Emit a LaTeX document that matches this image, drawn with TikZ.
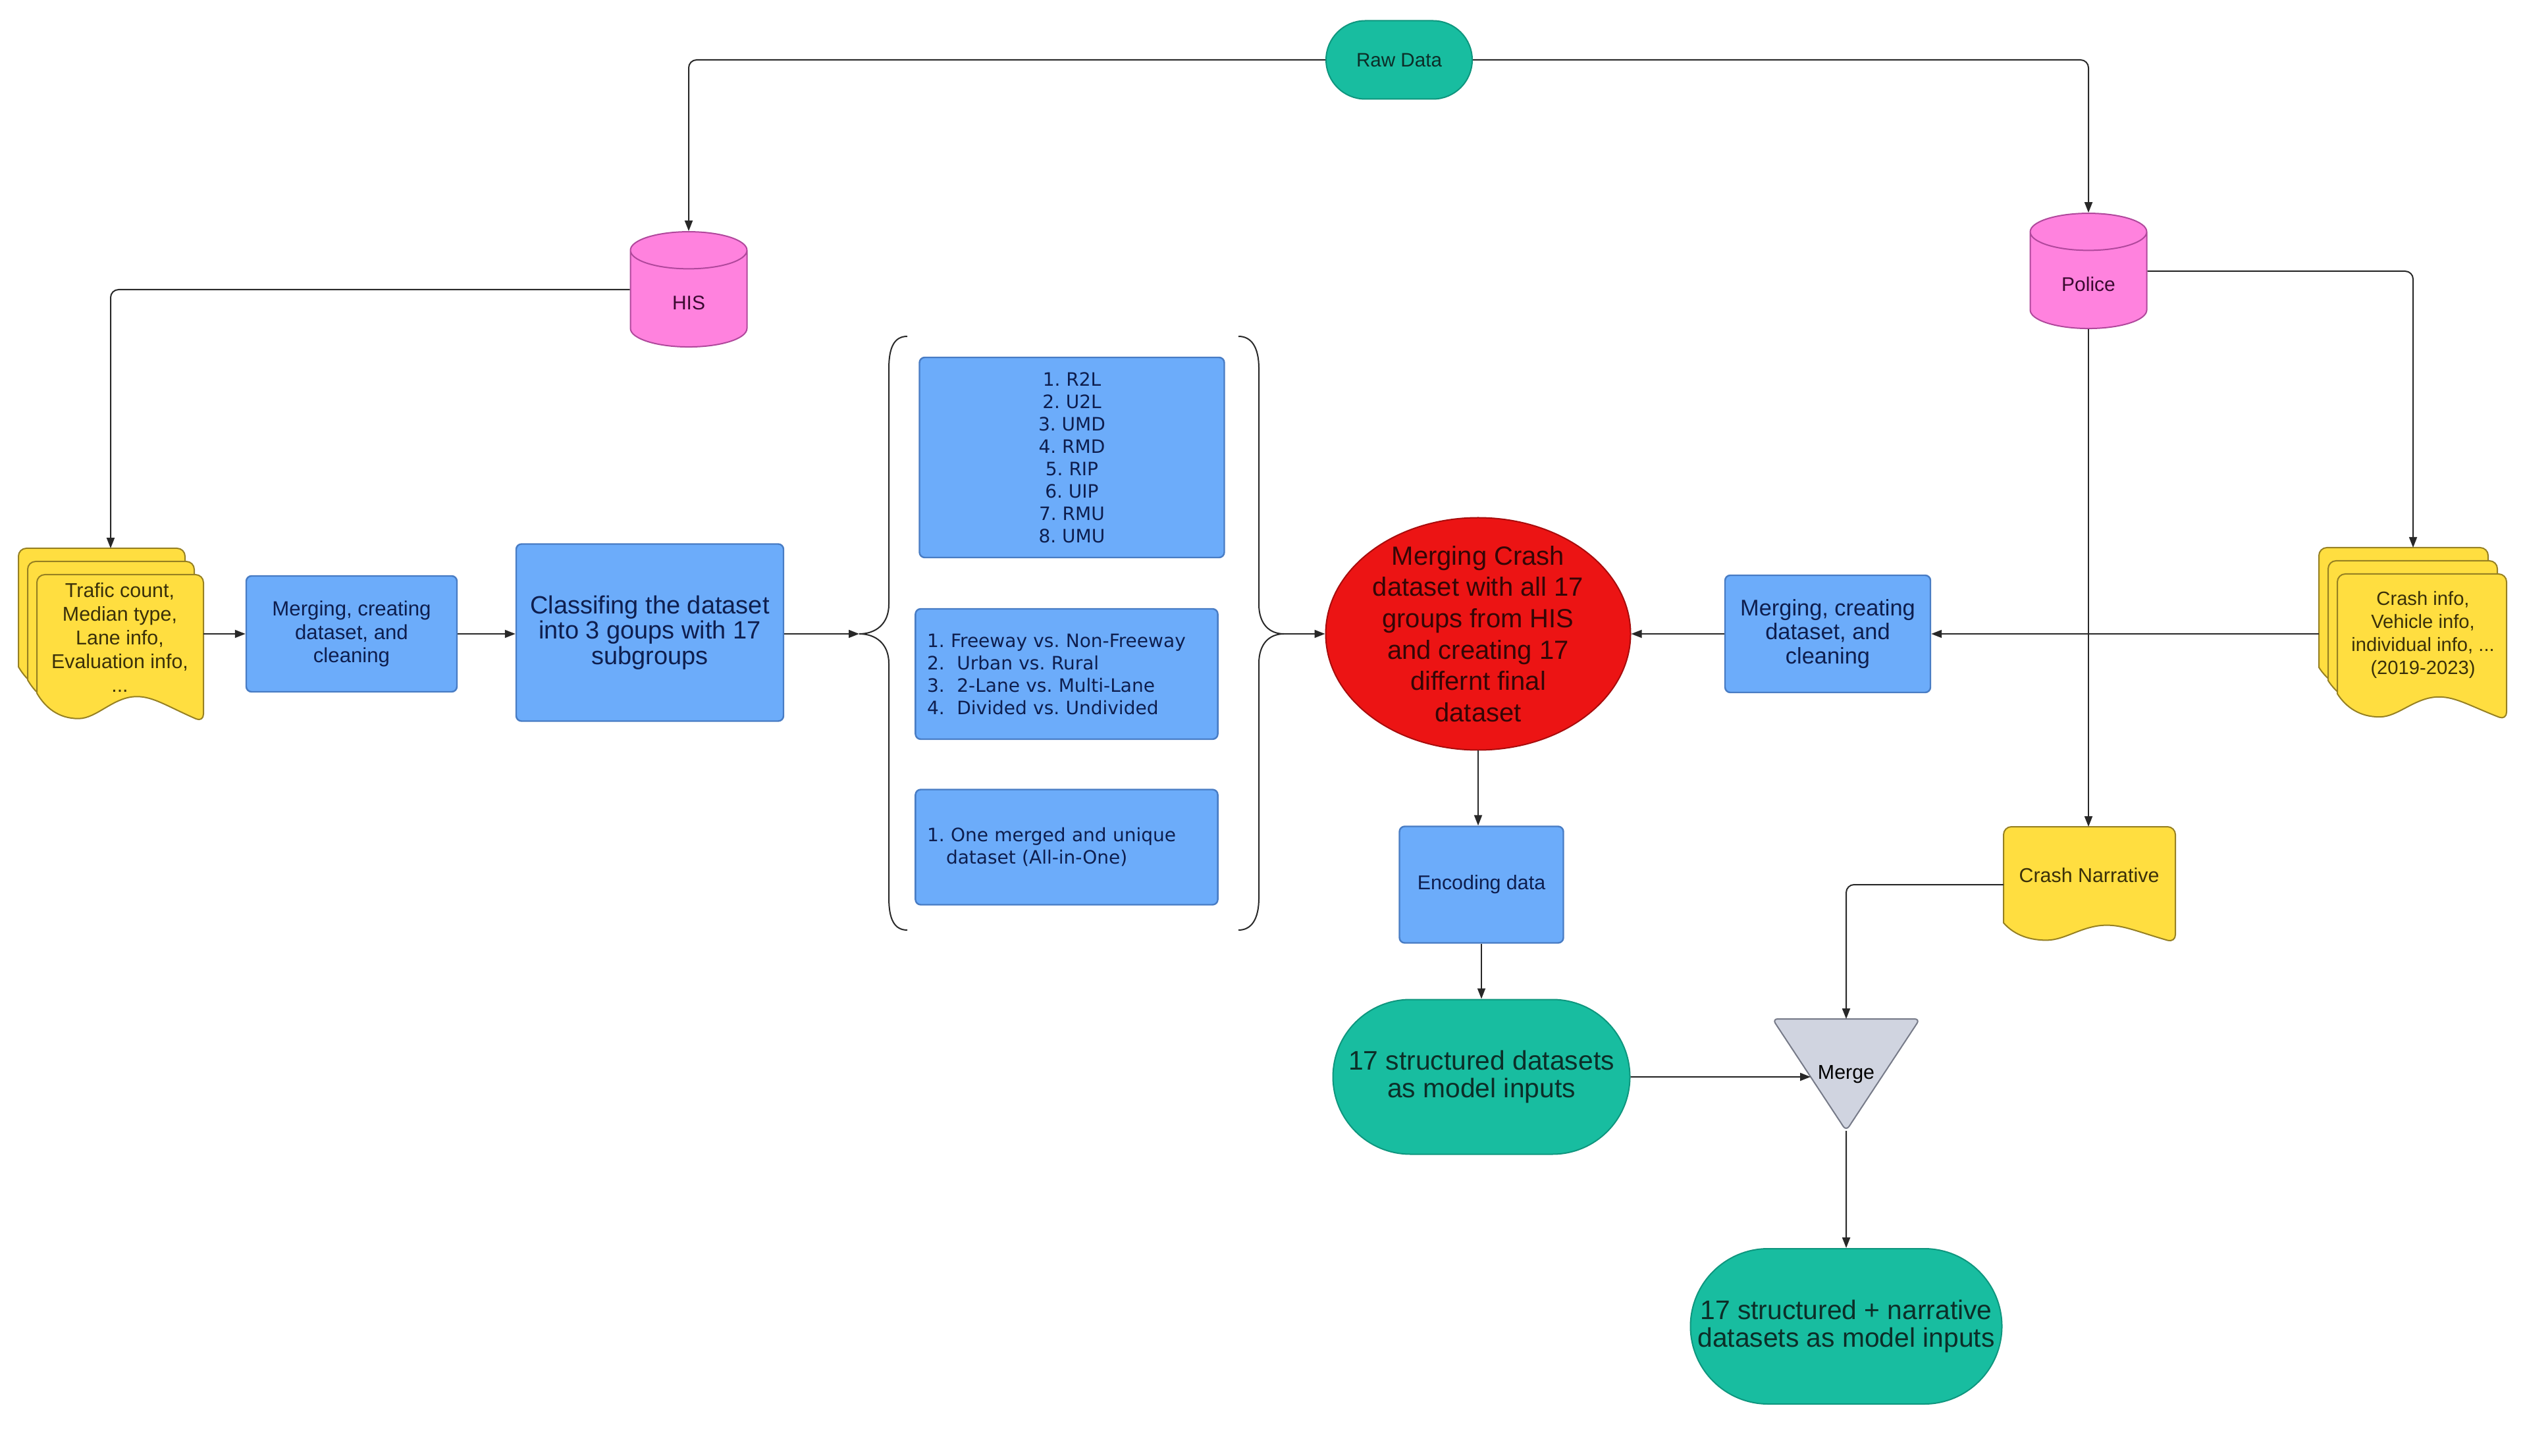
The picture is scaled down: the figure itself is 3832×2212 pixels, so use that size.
\documentclass[tikz,border=0pt]{standalone}
\usepackage{fontspec}
\setmainfont{Liberation Sans}
\newfontfamily\listfont{DejaVu Sans}
\usetikzlibrary{arrows.meta,shapes.geometric,shapes.misc}

\definecolor{tealfill}{RGB}{24,189,160}
\definecolor{tealline}{RGB}{14,150,126}
\definecolor{tealink}{RGB}{12,46,40}
\definecolor{bluefill}{RGB}{108,172,250}
\definecolor{blueline}{RGB}{72,124,196}
\definecolor{blueink}{RGB}{14,30,78}
\definecolor{docfill}{RGB}{255,222,64}
\definecolor{docline}{RGB}{150,128,34}
\definecolor{docink}{RGB}{58,48,10}
\definecolor{pinkfill}{RGB}{255,130,222}
\definecolor{pinkline}{RGB}{176,72,156}
\definecolor{pinkink}{RGB}{58,10,48}
\definecolor{redfill}{RGB}{236,20,20}
\definecolor{redline}{RGB}{168,12,12}
\definecolor{redink}{RGB}{52,6,6}
\definecolor{grayfill}{RGB}{208,212,224}
\definecolor{grayline}{RGB}{118,122,136}
\definecolor{wire}{RGB}{40,40,40}

\tikzset{
  arr/.style={draw=wire, line width=0.5pt, -{Triangle[length=4pt,width=3pt]}},
  wireline/.style={draw=wire, line width=0.5pt},
  terminal/.style={rounded rectangle, fill=tealfill, draw=tealline, line width=0.5pt, text=tealink, align=center, inner sep=1pt},
  store/.style={cylinder, shape border rotate=90, aspect=0.32, fill=pinkfill, draw=pinkline, line width=0.5pt, text width=40pt, align=center, inner sep=2pt, minimum width=44.25pt, minimum height=43.75pt},
  storetext/.style={text=pinkink, inner sep=1pt, font=\fontsize{7.5}{9}\selectfont},
  bluebox/.style={rectangle, rounded corners=2pt, fill=bluefill, draw=blueline, line width=0.6pt, text=blueink, align=center, inner sep=2pt},
  listbox/.style={bluebox, font=\listfont\fontsize{7}{8.5}\selectfont},
  docshape/.style={fill=docfill, draw=docline, line width=0.5pt},
  doctext/.style={text=docink, align=center, inner sep=1pt},
  mergeshape/.style={fill=grayfill, draw=grayline, line width=0.5pt, rounded corners=2pt},
  crashtext/.style={text=redink, align=center, inner sep=0pt, font=\fontsize{10}{11.9}\selectfont}
}

% one page of a document symbol: x, y (top left), width, height, wave depth
\newcommand{\docpage}[5]{%
  \pgfmathsetmacro{\pgxr}{#1+#3}%
  \pgfmathsetmacro{\pgyb}{#2+#4}%
  \draw[docshape] (#1,\pgyb-#5) [rounded corners=3pt] -- (#1,#2) -- (\pgxr,#2) -- (\pgxr,\pgyb) [sharp corners]
    .. controls ({#1+0.78*#3},{\pgyb-0.55*#5}) and ({#1+0.70*#3},{\pgyb-0.88*#5}) .. ({#1+0.60*#3},{\pgyb-0.88*#5})
    .. controls ({#1+0.46*#3},{\pgyb-0.88*#5}) and ({#1+0.36*#3},{\pgyb-0.12*#5}) .. ({#1+0.25*#3},{\pgyb-0.12*#5})
    .. controls ({#1+0.13*#3},{\pgyb-0.12*#5}) and ({#1+0.05*#3},{\pgyb-0.50*#5}) .. (#1,\pgyb-#5) -- cycle;
}

\begin{document}
\frenchspacing
\begin{tikzpicture}[x=0.25pt,y=0.25pt,yscale=-1,xscale=1]
\useasboundingbox (0,0) rectangle (3832,2212);

% document stacks, narrative page and merge symbol
\foreach \i in {0,1,2} {\docpage{28+14*\i}{833+20*\i}{253}{224}{44}}
\foreach \i in {0,1,2} {\docpage{3522+14*\i}{832+20*\i}{257}{222}{40}}
\docpage{3043}{1256}{261}{176}{30}
\draw[mergeshape] (2692,1548) -- (2916,1548) -- (2804,1718) -- cycle;

% nodes
\node (raw) [terminal, minimum width=57.5pt, minimum height=29.75pt, font=\fontsize{7.4}{8.5}\selectfont] at (2125,91) {Raw Data};
\node (his) [store, label={[storetext]center:HIS}] at (1046,460) {};
\node (police) [store, label={[storetext]center:Police}] at (3172,432) {};
\node (hisinfo) [doctext, font=\fontsize{7.6}{9}\selectfont] at (182,968) {Trafic count,\\Median type,\\Lane info,\\Evaluation info,\\...};
\node (polinfo) [doctext, font=\fontsize{7.3}{8.75}\selectfont] at (3680,964) {Crash info,\\Vehicle info,\\individual info, ...\\(2019-2023)};
\node (narr) [doctext, font=\fontsize{7.6}{9}\selectfont] at (3173,1330) {Crash Narrative};
\node (hismerge) [bluebox, minimum width=80pt, minimum height=44pt, font=\fontsize{7.8}{8.9}\selectfont] at (534,963) {Merging, creating\\dataset, and\\cleaning};
\node (classify) [bluebox, minimum width=101.5pt, minimum height=67.25pt, font=\fontsize{9.5}{9.6}\selectfont] at (987,961) {Classifing the dataset\\into 3 goups with 17\\subgroups};
\node (grpa) [listbox, minimum width=115.75pt, minimum height=76pt] at (1628,695) {1. R2L\\2. U2L\\3. UMD\\4. RMD\\5. RIP\\6. UIP\\7. RMU\\8. UMU};
\node (grpb) [listbox, align=left, text width=106pt, inner sep=4.4pt, minimum height=49.5pt] at (1620,1024) {1. Freeway vs. Non-Freeway\\2.~ Urban vs. Rural\\3.~ 2-Lane vs. Multi-Lane\\4.~ Divided vs. Undivided};
\node (grpc) [listbox, align=left, text width=106pt, inner sep=4.4pt, minimum height=43.75pt] at (1620,1287) {1. One merged and unique\\\hspace*{7.25pt}dataset (All-in-One)};
\node (crashmerge) [ellipse, fill=redfill, draw=redline, line width=0.5pt, inner sep=0pt, minimum width=115.75pt, minimum height=88.25pt, label={[crashtext]center:{Merging Crash\\dataset with all 17\\groups from HIS\\and creating 17\\differnt final\\dataset}}] at (2245,963) {};
\node (polmerge) [bluebox, minimum width=78pt, minimum height=44.5pt, font=\fontsize{8.6}{9.2}\selectfont] at (2776,963) {Merging, creating\\dataset, and\\cleaning};
\node (encode) [bluebox, minimum width=62.25pt, minimum height=44.25pt, font=\fontsize{7.6}{9}\selectfont] at (2250,1344) {Encoding data};
\node (structured) [terminal, minimum width=114.75pt, minimum height=58.75pt, font=\fontsize{10.2}{10.6}\selectfont] at (2250,1636) {17 structured datasets\\as model inputs};
\node (final) [terminal, minimum width=120.25pt, minimum height=59pt, font=\fontsize{10.2}{10.6}\selectfont] at (2804,2015) {17 structured + narrative\\datasets as model inputs};
\node (merge) [text=black, inner sep=1pt, font=\fontsize{7.6}{9}\selectfont] at (2804,1632) {Merge};

% connector ends on the drawn symbols
\coordinate (hisstack) at (168,833);
\coordinate (hisside) at (309,963);
\coordinate (polstack) at (3665,832);
\coordinate (polside) at (3522,963);
\coordinate (narrtop) at (3172,1256);
\coordinate (narrleft) at (3043,1344);
\coordinate (mtop) at (2804,1548);
\coordinate (mleft) at (2750,1636);
\coordinate (mapex) at (2804,1718);
\coordinate (lbrace) at (1305,963);
\coordinate (rbrace) at (1950,963);

% braces round the three groups
\draw[wireline] (1378,511) .. controls (1358,511) and (1350,528) .. (1350,560)
  -- (1350,918) .. controls (1350,948) and (1330,963) .. (lbrace)
  .. controls (1330,963) and (1350,978) .. (1350,1008)
  -- (1350,1364) .. controls (1350,1396) and (1358,1413) .. (1378,1413);
\draw[wireline] (1881,511) .. controls (1901,511) and (1912,528) .. (1912,560)
  -- (1912,918) .. controls (1912,948) and (1928,963) .. (rbrace)
  .. controls (1928,963) and (1912,978) .. (1912,1008)
  -- (1912,1364) .. controls (1912,1396) and (1901,1413) .. (1881,1413);

% connectors
\draw[arr, rounded corners=3pt] (raw.west) -| (his);
\draw[arr, rounded corners=3pt] (raw.east) -| (police);
\draw[arr, rounded corners=3pt] ([yshift=-5pt]his.west) -| (hisstack);
\draw[arr, rounded corners=3pt] ([yshift=-5pt]police.east) -| (polstack);
\draw[arr] (hisside) -- (hismerge);
\draw[arr] (hismerge.east) -- (hismerge.east -| classify.west);
\draw[arr] (classify.east |- lbrace) -- (lbrace);
\draw[arr] (rbrace) -- (crashmerge);
\draw[arr] (polside) -- (polmerge);
\draw[arr] (polmerge) -- (crashmerge);
\draw[arr] (crashmerge.south) -- (crashmerge.south |- encode.north);
\draw[arr] (encode) -- (structured);
\draw[arr] (police) -- (narrtop);
\draw[arr, rounded corners=3pt] (narrleft) -| (mtop);
\draw[arr] (structured) -- (mleft);
\draw[arr] (mapex) -- (final);
\end{tikzpicture}
\end{document}
